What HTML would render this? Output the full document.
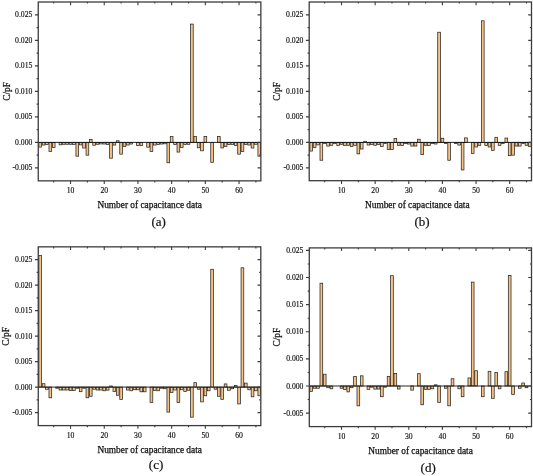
<!DOCTYPE html>
<html><head><meta charset="utf-8"><style>
html,body{margin:0;padding:0;background:#fff;}
svg{display:block;}
text{font-family:"Liberation Serif","Times New Roman",serif;fill:#111;stroke:#111;stroke-width:0.15px;}
.tk text{font-size:7.7px;}
.al{font-size:9.35px;stroke-width:0.25px;}
.pl{font-size:13px;stroke-width:0.2px;}
</style></head><body>
<svg width="533" height="476" viewBox="0 0 533 476">
<g fill="#F8C284" stroke="#262626" stroke-width="0.75"><rect x="38.87" y="142.40" width="2.70" height="4.69"/><rect x="42.24" y="142.40" width="2.70" height="2.65"/><rect x="45.61" y="142.40" width="2.70" height="2.14"/><rect x="48.98" y="142.40" width="2.70" height="8.98"/><rect x="52.35" y="142.40" width="2.70" height="5.10"/><rect x="59.09" y="142.40" width="2.70" height="2.40"/><rect x="62.46" y="142.40" width="2.70" height="1.89"/><rect x="65.83" y="142.40" width="2.70" height="1.89"/><rect x="69.20" y="142.40" width="2.70" height="1.89"/><rect x="72.57" y="142.40" width="2.70" height="2.14"/><rect x="75.94" y="142.40" width="2.70" height="13.77"/><rect x="79.31" y="142.40" width="2.70" height="2.50"/><rect x="82.68" y="142.40" width="2.70" height="5.61"/><rect x="86.05" y="142.40" width="2.70" height="12.75"/><rect x="89.42" y="139.49" width="2.70" height="2.91"/><rect x="92.79" y="142.40" width="2.70" height="2.86"/><rect x="96.16" y="142.40" width="2.70" height="1.89"/><rect x="99.53" y="142.40" width="2.70" height="1.53"/><rect x="102.90" y="142.40" width="2.70" height="1.63"/><rect x="106.27" y="142.40" width="2.70" height="2.14"/><rect x="109.64" y="142.40" width="2.70" height="15.81"/><rect x="113.01" y="142.40" width="2.70" height="2.65"/><rect x="116.38" y="140.77" width="2.70" height="1.63"/><rect x="119.75" y="142.40" width="2.70" height="11.73"/><rect x="123.12" y="142.40" width="2.70" height="4.18"/><rect x="126.49" y="142.40" width="2.70" height="2.65"/><rect x="129.86" y="142.40" width="2.70" height="1.63"/><rect x="136.60" y="142.40" width="2.70" height="3.01"/><rect x="139.97" y="142.40" width="2.70" height="3.01"/><rect x="146.71" y="142.40" width="2.70" height="4.79"/><rect x="150.08" y="142.40" width="2.70" height="9.18"/><rect x="153.45" y="142.40" width="2.70" height="2.65"/><rect x="156.82" y="142.40" width="2.70" height="2.14"/><rect x="160.19" y="142.40" width="2.70" height="1.63"/><rect x="163.56" y="142.40" width="2.70" height="1.38"/><rect x="166.93" y="142.40" width="2.70" height="20.40"/><rect x="170.30" y="136.53" width="2.70" height="5.87"/><rect x="173.67" y="142.40" width="2.70" height="2.14"/><rect x="177.04" y="142.40" width="2.70" height="9.69"/><rect x="180.41" y="142.40" width="2.70" height="5.10"/><rect x="183.78" y="142.40" width="2.70" height="2.14"/><rect x="187.15" y="142.40" width="2.70" height="1.89"/><rect x="190.52" y="24.08" width="2.70" height="118.32"/><rect x="193.89" y="136.53" width="2.70" height="5.87"/><rect x="197.26" y="142.40" width="2.70" height="5.41"/><rect x="200.63" y="142.40" width="2.70" height="8.41"/><rect x="204.00" y="136.38" width="2.70" height="6.02"/><rect x="210.74" y="142.40" width="2.70" height="19.89"/><rect x="217.48" y="136.38" width="2.70" height="6.02"/><rect x="220.85" y="142.40" width="2.70" height="5.56"/><rect x="224.22" y="142.40" width="2.70" height="4.18"/><rect x="227.59" y="142.40" width="2.70" height="2.14"/><rect x="230.96" y="142.40" width="2.70" height="2.14"/><rect x="234.33" y="142.40" width="2.70" height="3.16"/><rect x="237.70" y="142.40" width="2.70" height="11.73"/><rect x="241.07" y="142.40" width="2.70" height="9.18"/><rect x="244.44" y="142.40" width="2.70" height="2.14"/><rect x="247.81" y="142.40" width="2.70" height="2.65"/><rect x="251.18" y="142.40" width="2.70" height="5.61"/><rect x="254.55" y="142.40" width="2.70" height="1.89"/><rect x="257.92" y="142.40" width="2.70" height="13.77"/></g>
<line x1="38.25" x2="260.85" y1="142.4" y2="142.4" stroke="#111" stroke-width="0.9"/>
<rect x="38.25" y="2.0" width="222.60" height="178.85" fill="none" stroke="#3c3c3c" stroke-width="1.3"/>
<path d="M53.70 180.85v1.6M53.70 2.00v1.6M70.55 180.85v3.2M70.55 2.00v3.2M87.40 180.85v1.6M87.40 2.00v1.6M104.25 180.85v3.2M104.25 2.00v3.2M121.10 180.85v1.6M121.10 2.00v1.6M137.95 180.85v3.2M137.95 2.00v3.2M154.80 180.85v1.6M154.80 2.00v1.6M171.65 180.85v3.2M171.65 2.00v3.2M188.50 180.85v1.6M188.50 2.00v1.6M205.35 180.85v3.2M205.35 2.00v3.2M222.20 180.85v1.6M222.20 2.00v1.6M239.05 180.85v3.2M239.05 2.00v3.2M255.90 180.85v1.6M255.90 2.00v1.6M38.25 167.90h-3.3M260.85 167.90h-3.3M38.25 155.15h-1.6M260.85 155.15h-1.6M38.25 142.40h-3.3M260.85 142.40h-3.3M38.25 129.65h-1.6M260.85 129.65h-1.6M38.25 116.90h-3.3M260.85 116.90h-3.3M38.25 104.15h-1.6M260.85 104.15h-1.6M38.25 91.40h-3.3M260.85 91.40h-3.3M38.25 78.65h-1.6M260.85 78.65h-1.6M38.25 65.90h-3.3M260.85 65.90h-3.3M38.25 53.15h-1.6M260.85 53.15h-1.6M38.25 40.40h-3.3M260.85 40.40h-3.3M38.25 27.65h-1.6M260.85 27.65h-1.6M38.25 14.90h-3.3M260.85 14.90h-3.3" stroke="#3c3c3c" stroke-width="1.1" fill="none"/>
<g class="tk"><text x="32.40" y="170.10" text-anchor="end">-0.005</text><text x="32.40" y="144.60" text-anchor="end">0.000</text><text x="32.40" y="119.10" text-anchor="end">0.005</text><text x="32.40" y="93.60" text-anchor="end">0.010</text><text x="32.40" y="68.10" text-anchor="end">0.015</text><text x="32.40" y="42.60" text-anchor="end">0.020</text><text x="32.40" y="17.10" text-anchor="end">0.025</text><text x="70.55" y="192.70" text-anchor="middle">10</text><text x="104.25" y="192.70" text-anchor="middle">20</text><text x="137.95" y="192.70" text-anchor="middle">30</text><text x="171.65" y="192.70" text-anchor="middle">40</text><text x="205.35" y="192.70" text-anchor="middle">50</text><text x="239.05" y="192.70" text-anchor="middle">60</text></g>
<text class="al" x="97.4" y="207.6">Number of capacitance data</text>
<text class="al" transform="translate(9.5,91.5) rotate(-90)" text-anchor="middle">C/pF</text>
<text class="pl" x="151.5" y="226.3">(a)</text>
<g fill="#F8C284" stroke="#262626" stroke-width="0.75"><rect x="309.91" y="142.40" width="2.70" height="8.67"/><rect x="313.28" y="142.40" width="2.70" height="5.10"/><rect x="316.64" y="142.40" width="2.70" height="2.45"/><rect x="320.00" y="142.40" width="2.70" height="17.85"/><rect x="323.36" y="142.40" width="2.70" height="1.12"/><rect x="326.73" y="142.40" width="2.70" height="3.67"/><rect x="330.09" y="142.40" width="2.70" height="2.91"/><rect x="333.45" y="142.40" width="2.70" height="1.12"/><rect x="336.82" y="142.40" width="2.70" height="3.16"/><rect x="340.18" y="142.40" width="2.70" height="1.89"/><rect x="343.54" y="142.40" width="2.70" height="3.06"/><rect x="346.91" y="142.40" width="2.70" height="2.91"/><rect x="350.27" y="142.40" width="2.70" height="4.18"/><rect x="353.63" y="142.40" width="2.70" height="2.91"/><rect x="356.99" y="142.40" width="2.70" height="11.47"/><rect x="360.36" y="142.40" width="2.70" height="6.63"/><rect x="363.72" y="141.28" width="2.70" height="1.12"/><rect x="367.08" y="142.40" width="2.70" height="2.65"/><rect x="370.45" y="142.40" width="2.70" height="2.14"/><rect x="373.81" y="142.40" width="2.70" height="2.91"/><rect x="377.17" y="142.40" width="2.70" height="2.14"/><rect x="380.54" y="142.40" width="2.70" height="4.18"/><rect x="383.90" y="142.40" width="2.70" height="1.12"/><rect x="387.26" y="142.40" width="2.70" height="7.14"/><rect x="390.62" y="142.40" width="2.70" height="7.14"/><rect x="393.99" y="138.52" width="2.70" height="3.88"/><rect x="397.35" y="142.40" width="2.70" height="2.91"/><rect x="400.71" y="142.40" width="2.70" height="3.16"/><rect x="404.08" y="142.40" width="2.70" height="1.12"/><rect x="407.44" y="142.40" width="2.70" height="1.63"/><rect x="410.80" y="142.40" width="2.70" height="3.67"/><rect x="414.17" y="142.40" width="2.70" height="3.67"/><rect x="417.53" y="139.24" width="2.70" height="3.16"/><rect x="420.89" y="142.40" width="2.70" height="12.24"/><rect x="424.25" y="142.40" width="2.70" height="2.91"/><rect x="427.62" y="142.40" width="2.70" height="3.16"/><rect x="430.98" y="142.40" width="2.70" height="1.12"/><rect x="434.34" y="142.40" width="2.70" height="1.63"/><rect x="437.71" y="32.24" width="2.70" height="110.16"/><rect x="441.07" y="138.22" width="2.70" height="4.18"/><rect x="444.43" y="142.40" width="2.70" height="1.12"/><rect x="447.80" y="142.40" width="2.70" height="17.85"/><rect x="454.52" y="142.40" width="2.70" height="1.12"/><rect x="457.88" y="142.40" width="2.70" height="2.65"/><rect x="461.25" y="142.40" width="2.70" height="27.54"/><rect x="464.61" y="137.91" width="2.70" height="4.49"/><rect x="471.34" y="142.40" width="2.70" height="11.22"/><rect x="474.70" y="142.40" width="2.70" height="4.59"/><rect x="478.06" y="142.40" width="2.70" height="2.91"/><rect x="481.43" y="20.82" width="2.70" height="121.58"/><rect x="484.79" y="142.40" width="2.70" height="3.16"/><rect x="488.15" y="142.40" width="2.70" height="4.59"/><rect x="491.51" y="142.40" width="2.70" height="7.91"/><rect x="494.88" y="137.30" width="2.70" height="5.10"/><rect x="498.24" y="142.40" width="2.70" height="2.91"/><rect x="501.60" y="142.40" width="2.70" height="1.12"/><rect x="504.97" y="138.06" width="2.70" height="4.34"/><rect x="508.33" y="142.40" width="2.70" height="13.26"/><rect x="511.69" y="142.40" width="2.70" height="12.75"/><rect x="515.06" y="142.40" width="2.70" height="3.67"/><rect x="518.42" y="142.40" width="2.70" height="3.67"/><rect x="521.78" y="142.40" width="2.70" height="1.12"/><rect x="525.14" y="142.40" width="2.70" height="2.91"/><rect x="528.51" y="142.40" width="2.70" height="4.18"/></g>
<line x1="309.2" x2="531.5" y1="142.4" y2="142.4" stroke="#111" stroke-width="0.9"/>
<rect x="309.2" y="2.0" width="222.30" height="178.70" fill="none" stroke="#3c3c3c" stroke-width="1.3"/>
<path d="M324.71 180.70v1.6M324.71 2.00v1.6M341.53 180.70v3.2M341.53 2.00v3.2M358.34 180.70v1.6M358.34 2.00v1.6M375.16 180.70v3.2M375.16 2.00v3.2M391.97 180.70v1.6M391.97 2.00v1.6M408.79 180.70v3.2M408.79 2.00v3.2M425.60 180.70v1.6M425.60 2.00v1.6M442.42 180.70v3.2M442.42 2.00v3.2M459.24 180.70v1.6M459.24 2.00v1.6M476.05 180.70v3.2M476.05 2.00v3.2M492.87 180.70v1.6M492.87 2.00v1.6M509.68 180.70v3.2M509.68 2.00v3.2M526.50 180.70v1.6M526.50 2.00v1.6M309.20 167.90h-3.3M531.50 167.90h-3.3M309.20 155.15h-1.6M531.50 155.15h-1.6M309.20 142.40h-3.3M531.50 142.40h-3.3M309.20 129.65h-1.6M531.50 129.65h-1.6M309.20 116.90h-3.3M531.50 116.90h-3.3M309.20 104.15h-1.6M531.50 104.15h-1.6M309.20 91.40h-3.3M531.50 91.40h-3.3M309.20 78.65h-1.6M531.50 78.65h-1.6M309.20 65.90h-3.3M531.50 65.90h-3.3M309.20 53.15h-1.6M531.50 53.15h-1.6M309.20 40.40h-3.3M531.50 40.40h-3.3M309.20 27.65h-1.6M531.50 27.65h-1.6M309.20 14.90h-3.3M531.50 14.90h-3.3" stroke="#3c3c3c" stroke-width="1.1" fill="none"/>
<g class="tk"><text x="303.35" y="170.10" text-anchor="end">-0.005</text><text x="303.35" y="144.60" text-anchor="end">0.000</text><text x="303.35" y="119.10" text-anchor="end">0.005</text><text x="303.35" y="93.60" text-anchor="end">0.010</text><text x="303.35" y="68.10" text-anchor="end">0.015</text><text x="303.35" y="42.60" text-anchor="end">0.020</text><text x="303.35" y="17.10" text-anchor="end">0.025</text><text x="341.53" y="192.70" text-anchor="middle">10</text><text x="375.16" y="192.70" text-anchor="middle">20</text><text x="408.79" y="192.70" text-anchor="middle">30</text><text x="442.42" y="192.70" text-anchor="middle">40</text><text x="476.05" y="192.70" text-anchor="middle">50</text><text x="509.68" y="192.70" text-anchor="middle">60</text></g>
<text class="al" x="365.0" y="207.6">Number of capacitance data</text>
<text class="al" transform="translate(279.9,91.45) rotate(-90)" text-anchor="middle">C/pF</text>
<text class="pl" x="414.5" y="226.3">(b)</text>
<g fill="#F8C284" stroke="#262626" stroke-width="0.75"><rect x="38.87" y="255.52" width="2.70" height="131.58"/><rect x="42.24" y="383.68" width="2.70" height="3.42"/><rect x="45.61" y="387.10" width="2.70" height="2.14"/><rect x="48.98" y="387.10" width="2.70" height="10.71"/><rect x="55.72" y="387.10" width="2.70" height="1.12"/><rect x="59.09" y="387.10" width="2.70" height="2.91"/><rect x="62.46" y="387.10" width="2.70" height="2.91"/><rect x="65.83" y="387.10" width="2.70" height="2.91"/><rect x="69.20" y="387.10" width="2.70" height="3.42"/><rect x="72.57" y="387.10" width="2.70" height="3.42"/><rect x="75.94" y="387.10" width="2.70" height="1.12"/><rect x="79.31" y="387.10" width="2.70" height="4.59"/><rect x="82.68" y="387.10" width="2.70" height="1.12"/><rect x="86.05" y="387.10" width="2.70" height="10.71"/><rect x="89.42" y="387.10" width="2.70" height="9.18"/><rect x="92.79" y="387.10" width="2.70" height="2.14"/><rect x="96.16" y="387.10" width="2.70" height="2.91"/><rect x="99.53" y="387.10" width="2.70" height="2.91"/><rect x="102.90" y="387.10" width="2.70" height="3.67"/><rect x="106.27" y="387.10" width="2.70" height="3.06"/><rect x="109.64" y="385.98" width="2.70" height="1.12"/><rect x="113.01" y="387.10" width="2.70" height="4.33"/><rect x="116.38" y="387.10" width="2.70" height="8.16"/><rect x="119.75" y="387.10" width="2.70" height="12.24"/><rect x="126.49" y="387.10" width="2.70" height="2.91"/><rect x="129.86" y="387.10" width="2.70" height="3.67"/><rect x="133.23" y="387.10" width="2.70" height="2.65"/><rect x="136.60" y="387.10" width="2.70" height="2.65"/><rect x="139.97" y="387.10" width="2.70" height="4.69"/><rect x="143.34" y="387.10" width="2.70" height="4.69"/><rect x="150.08" y="387.10" width="2.70" height="15.30"/><rect x="153.45" y="387.10" width="2.70" height="3.42"/><rect x="156.82" y="387.10" width="2.70" height="3.67"/><rect x="160.19" y="387.10" width="2.70" height="1.12"/><rect x="163.56" y="387.10" width="2.70" height="1.63"/><rect x="166.93" y="387.10" width="2.70" height="24.99"/><rect x="170.30" y="387.10" width="2.70" height="5.36"/><rect x="173.67" y="387.10" width="2.70" height="2.91"/><rect x="177.04" y="387.10" width="2.70" height="15.30"/><rect x="180.41" y="387.10" width="2.70" height="2.65"/><rect x="183.78" y="387.10" width="2.70" height="4.44"/><rect x="187.15" y="387.10" width="2.70" height="3.16"/><rect x="190.52" y="387.10" width="2.70" height="30.09"/><rect x="193.89" y="382.66" width="2.70" height="4.44"/><rect x="197.26" y="387.10" width="2.70" height="2.14"/><rect x="200.63" y="387.10" width="2.70" height="14.79"/><rect x="204.00" y="387.10" width="2.70" height="8.67"/><rect x="207.37" y="387.10" width="2.70" height="3.67"/><rect x="210.74" y="269.29" width="2.70" height="117.81"/><rect x="214.11" y="387.10" width="2.70" height="2.14"/><rect x="217.48" y="387.10" width="2.70" height="9.18"/><rect x="220.85" y="387.10" width="2.70" height="12.24"/><rect x="224.22" y="383.94" width="2.70" height="3.16"/><rect x="227.59" y="387.10" width="2.70" height="3.16"/><rect x="230.96" y="387.10" width="2.70" height="1.63"/><rect x="234.33" y="385.47" width="2.70" height="1.63"/><rect x="237.70" y="387.10" width="2.70" height="16.83"/><rect x="241.07" y="267.76" width="2.70" height="119.34"/><rect x="244.44" y="383.12" width="2.70" height="3.98"/><rect x="247.81" y="387.10" width="2.70" height="2.65"/><rect x="251.18" y="387.10" width="2.70" height="9.69"/><rect x="254.55" y="387.10" width="2.70" height="3.67"/><rect x="257.92" y="387.10" width="2.70" height="8.67"/></g>
<line x1="38.25" x2="260.8" y1="387.1" y2="387.1" stroke="#111" stroke-width="0.9"/>
<rect x="38.25" y="246.85" width="222.55" height="178.75" fill="none" stroke="#3c3c3c" stroke-width="1.3"/>
<path d="M53.70 425.60v1.6M53.70 246.85v1.6M70.55 425.60v3.2M70.55 246.85v3.2M87.40 425.60v1.6M87.40 246.85v1.6M104.25 425.60v3.2M104.25 246.85v3.2M121.10 425.60v1.6M121.10 246.85v1.6M137.95 425.60v3.2M137.95 246.85v3.2M154.80 425.60v1.6M154.80 246.85v1.6M171.65 425.60v3.2M171.65 246.85v3.2M188.50 425.60v1.6M188.50 246.85v1.6M205.35 425.60v3.2M205.35 246.85v3.2M222.20 425.60v1.6M222.20 246.85v1.6M239.05 425.60v3.2M239.05 246.85v3.2M255.90 425.60v1.6M255.90 246.85v1.6M38.25 412.60h-3.3M260.80 412.60h-3.3M38.25 399.85h-1.6M260.80 399.85h-1.6M38.25 387.10h-3.3M260.80 387.10h-3.3M38.25 374.35h-1.6M260.80 374.35h-1.6M38.25 361.60h-3.3M260.80 361.60h-3.3M38.25 348.85h-1.6M260.80 348.85h-1.6M38.25 336.10h-3.3M260.80 336.10h-3.3M38.25 323.35h-1.6M260.80 323.35h-1.6M38.25 310.60h-3.3M260.80 310.60h-3.3M38.25 297.85h-1.6M260.80 297.85h-1.6M38.25 285.10h-3.3M260.80 285.10h-3.3M38.25 272.35h-1.6M260.80 272.35h-1.6M38.25 259.60h-3.3M260.80 259.60h-3.3" stroke="#3c3c3c" stroke-width="1.1" fill="none"/>
<g class="tk"><text x="32.40" y="415.20" text-anchor="end">-0.005</text><text x="32.40" y="389.70" text-anchor="end">0.000</text><text x="32.40" y="364.20" text-anchor="end">0.005</text><text x="32.40" y="338.70" text-anchor="end">0.010</text><text x="32.40" y="313.20" text-anchor="end">0.015</text><text x="32.40" y="287.70" text-anchor="end">0.020</text><text x="32.40" y="262.20" text-anchor="end">0.025</text><text x="70.55" y="437.70" text-anchor="middle">10</text><text x="104.25" y="437.70" text-anchor="middle">20</text><text x="137.95" y="437.70" text-anchor="middle">30</text><text x="171.65" y="437.70" text-anchor="middle">40</text><text x="205.35" y="437.70" text-anchor="middle">50</text><text x="239.05" y="437.70" text-anchor="middle">60</text></g>
<text class="al" x="97.4" y="452.6">Number of capacitance data</text>
<text class="al" transform="translate(8.9,336.5) rotate(-90)" text-anchor="middle">C/pF</text>
<text class="pl" x="148.8" y="469.3">(c)</text>
<g fill="#F8C284" stroke="#262626" stroke-width="0.75"><rect x="309.91" y="386.00" width="2.70" height="5.36"/><rect x="313.28" y="386.00" width="2.70" height="2.25"/><rect x="316.64" y="386.00" width="2.70" height="2.25"/><rect x="320.00" y="283.20" width="2.70" height="102.80"/><rect x="323.36" y="374.21" width="2.70" height="11.79"/><rect x="326.73" y="386.00" width="2.70" height="1.72"/><rect x="330.09" y="386.00" width="2.70" height="2.79"/><rect x="340.18" y="386.00" width="2.70" height="2.25"/><rect x="343.54" y="386.00" width="2.70" height="3.59"/><rect x="346.91" y="386.00" width="2.70" height="5.90"/><rect x="350.27" y="386.00" width="2.70" height="1.72"/><rect x="353.63" y="376.62" width="2.70" height="9.38"/><rect x="356.99" y="386.00" width="2.70" height="19.83"/><rect x="360.36" y="375.82" width="2.70" height="10.18"/><rect x="367.08" y="386.00" width="2.70" height="3.32"/><rect x="370.45" y="386.00" width="2.70" height="1.18"/><rect x="373.81" y="386.00" width="2.70" height="3.16"/><rect x="377.17" y="386.00" width="2.70" height="3.06"/><rect x="380.54" y="386.00" width="2.70" height="10.72"/><rect x="383.90" y="386.00" width="2.70" height="1.18"/><rect x="387.26" y="376.35" width="2.70" height="9.65"/><rect x="390.62" y="275.69" width="2.70" height="110.31"/><rect x="393.99" y="373.40" width="2.70" height="12.60"/><rect x="397.35" y="386.00" width="2.70" height="3.06"/><rect x="410.80" y="386.00" width="2.70" height="4.13"/><rect x="417.53" y="373.67" width="2.70" height="12.33"/><rect x="420.89" y="386.00" width="2.70" height="18.76"/><rect x="424.25" y="386.00" width="2.70" height="3.32"/><rect x="427.62" y="386.00" width="2.70" height="3.32"/><rect x="430.98" y="386.00" width="2.70" height="2.79"/><rect x="434.34" y="384.82" width="2.70" height="1.18"/><rect x="437.71" y="386.00" width="2.70" height="16.62"/><rect x="444.43" y="386.00" width="2.70" height="2.25"/><rect x="447.80" y="386.00" width="2.70" height="19.83"/><rect x="451.16" y="378.71" width="2.70" height="7.29"/><rect x="457.88" y="386.00" width="2.70" height="2.79"/><rect x="461.25" y="386.00" width="2.70" height="10.72"/><rect x="467.97" y="377.96" width="2.70" height="8.04"/><rect x="471.34" y="282.12" width="2.70" height="103.88"/><rect x="474.70" y="370.72" width="2.70" height="15.28"/><rect x="481.43" y="386.00" width="2.70" height="10.72"/><rect x="488.15" y="371.31" width="2.70" height="14.69"/><rect x="491.51" y="386.00" width="2.70" height="12.33"/><rect x="494.88" y="372.39" width="2.70" height="13.61"/><rect x="498.24" y="386.00" width="2.70" height="2.79"/><rect x="504.97" y="371.69" width="2.70" height="14.31"/><rect x="508.33" y="275.42" width="2.70" height="110.58"/><rect x="511.69" y="386.00" width="2.70" height="8.58"/><rect x="518.42" y="386.00" width="2.70" height="2.25"/><rect x="521.78" y="383.00" width="2.70" height="3.00"/><rect x="525.14" y="386.00" width="2.70" height="1.72"/></g>
<line x1="309.3" x2="531.5" y1="386.0" y2="386.0" stroke="#111" stroke-width="0.9"/>
<rect x="309.3" y="247.9" width="222.20" height="178.70" fill="none" stroke="#3c3c3c" stroke-width="1.3"/>
<path d="M324.71 426.60v1.6M324.71 247.90v1.6M341.53 426.60v3.2M341.53 247.90v3.2M358.34 426.60v1.6M358.34 247.90v1.6M375.16 426.60v3.2M375.16 247.90v3.2M391.97 426.60v1.6M391.97 247.90v1.6M408.79 426.60v3.2M408.79 247.90v3.2M425.60 426.60v1.6M425.60 247.90v1.6M442.42 426.60v3.2M442.42 247.90v3.2M459.24 426.60v1.6M459.24 247.90v1.6M476.05 426.60v3.2M476.05 247.90v3.2M492.87 426.60v1.6M492.87 247.90v1.6M509.68 426.60v3.2M509.68 247.90v3.2M526.50 426.60v1.6M526.50 247.90v1.6M309.30 413.12h-3.3M531.50 413.12h-3.3M309.30 399.56h-1.6M531.50 399.56h-1.6M309.30 386.00h-3.3M531.50 386.00h-3.3M309.30 372.44h-1.6M531.50 372.44h-1.6M309.30 358.88h-3.3M531.50 358.88h-3.3M309.30 345.32h-1.6M531.50 345.32h-1.6M309.30 331.76h-3.3M531.50 331.76h-3.3M309.30 318.20h-1.6M531.50 318.20h-1.6M309.30 304.64h-3.3M531.50 304.64h-3.3M309.30 291.08h-1.6M531.50 291.08h-1.6M309.30 277.52h-3.3M531.50 277.52h-3.3M309.30 263.96h-1.6M531.50 263.96h-1.6M309.30 250.40h-3.3M531.50 250.40h-3.3" stroke="#3c3c3c" stroke-width="1.1" fill="none"/>
<g class="tk"><text x="303.45" y="415.72" text-anchor="end">-0.005</text><text x="303.45" y="388.60" text-anchor="end">0.000</text><text x="303.45" y="361.48" text-anchor="end">0.005</text><text x="303.45" y="334.36" text-anchor="end">0.010</text><text x="303.45" y="307.24" text-anchor="end">0.015</text><text x="303.45" y="280.12" text-anchor="end">0.020</text><text x="303.45" y="253.00" text-anchor="end">0.025</text><text x="341.53" y="438.60" text-anchor="middle">10</text><text x="375.16" y="438.60" text-anchor="middle">20</text><text x="408.79" y="438.60" text-anchor="middle">30</text><text x="442.42" y="438.60" text-anchor="middle">40</text><text x="476.05" y="438.60" text-anchor="middle">50</text><text x="509.68" y="438.60" text-anchor="middle">60</text></g>
<text class="al" x="368.3" y="453.6">Number of capacitance data</text>
<text class="al" transform="translate(279.5,337.2) rotate(-90)" text-anchor="middle">C/pF</text>
<text class="pl" x="420.6" y="472.0">(d)</text>
</svg>
</body></html>
